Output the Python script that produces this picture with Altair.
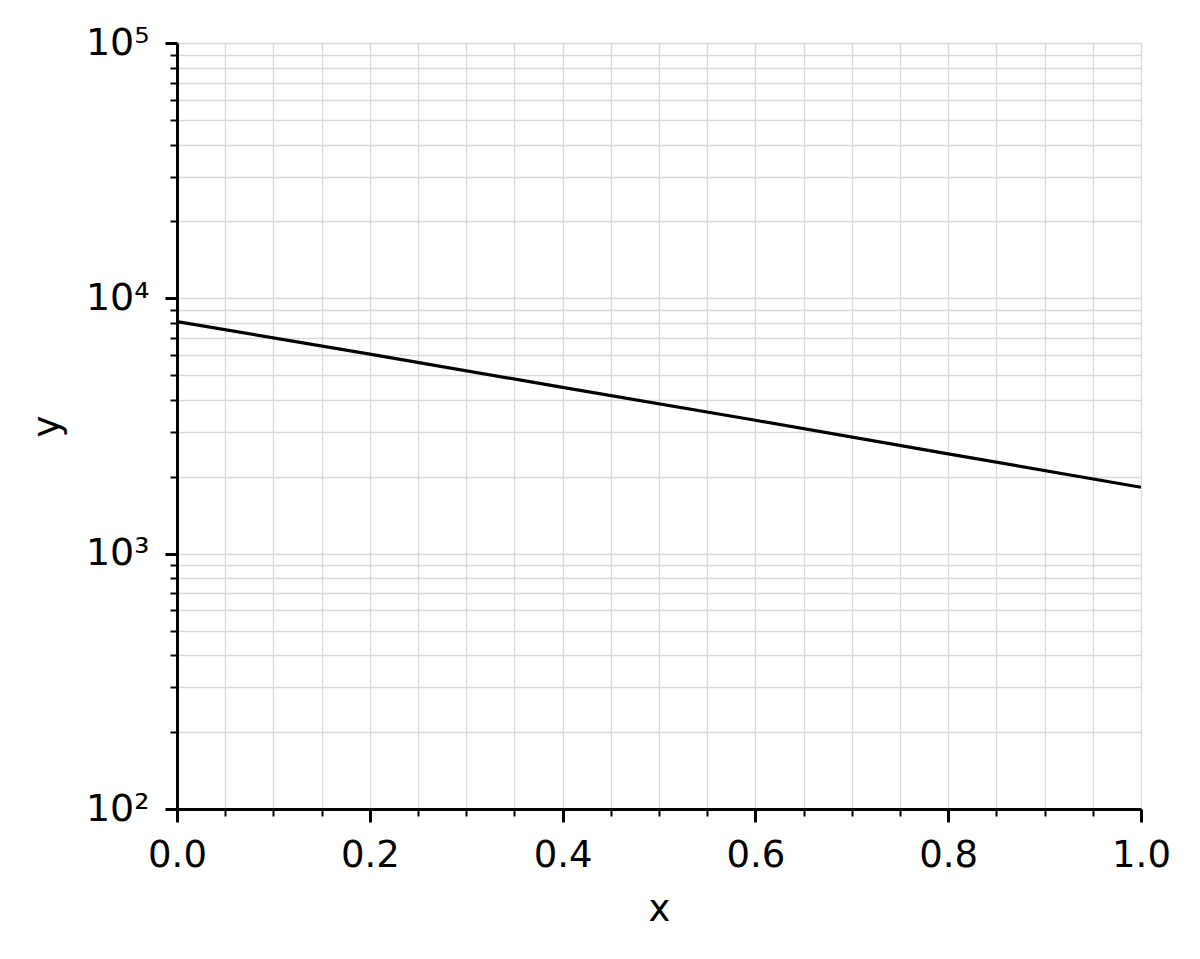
import altair as alt
import pandas as pd

# Data
x_vals = [0.0, 0.2, 0.4, 0.6, 0.8, 1.0]
y_vals = [8100, 6050, 4480, 3330, 2460, 1820]

x_ticks = [round(i * 0.05, 2) for i in range(21)]
y_ticks = [m * 10 ** e for e in range(2, 5) for m in range(1, 10)] + [100000]

df = pd.DataFrame({"x": x_vals, "y": y_vals})

FONT = "DejaVu Sans"

x_major = "abs(datum.value*5 - round(datum.value*5)) < 1e-6"
y_major = "abs(log(datum.value)/LN10 - round(log(datum.value)/LN10)) < 1e-6"

sup = "{'0':'⁰','1':'¹','2':'²','3':'³','4':'⁴','5':'⁵','6':'⁶'}"

x_axis = alt.Axis(
    values=x_ticks,
    title="x",
    labelExpr=f"{x_major} ? format(datum.value, '.1f') : ''",
    labelFont=FONT, labelFontSize=37, labelColor="black", labelPadding=15,
    labelOverlap=False, labelFlush=False,
    titleFont=FONT, titleFontSize=37, titleFontWeight="normal", titleColor="black",
    titlePadding=18,
    domainColor="black", domainWidth=3,
    tickColor="black",
    tickSize={"condition": {"test": x_major, "value": 13}, "value": 7},
    tickWidth={"condition": {"test": x_major, "value": 3}, "value": 2},
    grid=True, gridColor="#d9d9d9", gridWidth=1.3,
)

y_axis = alt.Axis(
    values=y_ticks,
    title="y",
    labelExpr=f"{y_major} ? '10' + {sup}[toString(round(log(datum.value)/LN10))] : ''",
    labelFont=FONT, labelFontSize=38, labelColor="black", labelPadding=16,
    labelOverlap=False, labelFlush=False, labelBaseline="middle",
    titleFont=FONT, titleFontSize=37, titleFontWeight="normal", titleColor="black",
    titlePadding=19,
    domainColor="black", domainWidth=3,
    tickColor="black",
    tickSize={"condition": {"test": y_major, "value": 12}, "value": 7},
    tickWidth={"condition": {"test": y_major, "value": 3}, "value": 2},
    grid=True, gridColor="#d9d9d9", gridWidth=1.3,
)

chart = (
    alt.Chart(df)
    .mark_line(color="black", strokeWidth=3.2, clip=True)
    .encode(
        x=alt.X("x:Q", scale=alt.Scale(domain=[0, 1], nice=False, zero=False), axis=x_axis),
        y=alt.Y("y:Q", scale=alt.Scale(type="log", domain=[100, 100000], nice=False), axis=y_axis),
    )
    .properties(
        width=964,
        height=766,
        autosize=alt.AutoSizeParams(type="none"),
        padding={"left": 169, "top": 35, "right": 40, "bottom": 120},
    )
    .configure_view(stroke="black", strokeWidth=3)
    .configure(background="white")
)

chart.save("out.html", embed_options={"renderer": "svg", "actions": False})
